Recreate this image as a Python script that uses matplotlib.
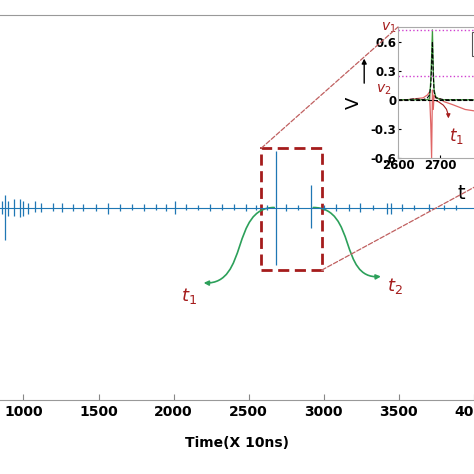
import numpy as np
import matplotlib.pyplot as plt
from matplotlib.patches import Rectangle, FancyArrowPatch, ConnectionPatch
from matplotlib.path import Path

# main trace: noise bursts (time, upper, lower)
burst_t = [860, 880, 900, 940, 980, 1000, 1030, 1080, 1120, 1200, 1260, 1330, 1400, 1480,
           1560, 1640, 1720, 1800, 1880, 1950, 2010, 2080, 2160, 2240, 2320, 2400, 2480,
           2550, 2620, 2682, 2750, 2830, 2916, 3000, 3080, 3170, 3240, 3330, 3420, 3450,
           3520, 3600, 3700, 3800, 3880]
burst_hi = [0.04, 0.08, 0.04, 0.05, 0.05, 0.04, 0.03, 0.04, 0.03, 0.03, 0.03, 0.02, 0.02, 0.02,
            0.03, 0.02, 0.02, 0.02, 0.02, 0.02, 0.04, 0.02, 0.015, 0.02, 0.02, 0.02, 0.02,
            0.015, 0.015, 0.35, 0.02, 0.015, 0.14, 0.015, 0.02, 0.02, 0.03, 0.015, 0.03, 0.03,
            0.02, 0.015, 0.02, 0.015, 0.015]
burst_lo = [-0.04, -0.2, -0.05, -0.05, -0.06, -0.05, -0.04, -0.03, -0.03, -0.02, -0.03, -0.02, -0.02, -0.02,
            -0.04, -0.02, -0.015, -0.02, -0.015, -0.02, -0.04, -0.015, -0.015, -0.02, -0.015, -0.015, -0.02,
            -0.015, -0.015, -0.36, -0.02, -0.015, -0.13, -0.015, -0.02, -0.02, -0.03, -0.015, -0.04, -0.04,
            -0.02, -0.015, -0.02, -0.015, -0.015]

# inset traces (zoom around 2600-2780)
in_t = [2600, 2620, 2640, 2660, 2670, 2675, 2678, 2680, 2682, 2684, 2686, 2690, 2700, 2710, 2730, 2760, 2790]
in_red = [0.0, 0.0, 0.01, 0.02, 0.05, 0.08, -0.25, -0.6, 0.1, -0.1, 0.05, 0.02, 0.01, -0.02, -0.05, -0.1, -0.12]
in_green = [0.0, 0.0, 0.0, 0.0, 0.0, 0.01, 0.2, 0.45, 0.72, 0.3, 0.1, 0.03, 0.0, 0.0, 0.0, 0.0, 0.0]
in_black = [0.0, 0.0, 0.01, 0.0, 0.02, 0.05, 0.15, 0.35, 0.6, 0.25, 0.08, 0.02, 0.01, 0.0, 0.0, 0.0, 0.0]
v1, v2 = 0.72, 0.25

fig = plt.figure(figsize=(4.74, 4.74), dpi=100)
W = H = 474.0
x0 = 1000 - 24 / 0.154
x1 = 1000 + (474 - 24) / 0.154
ax = fig.add_axes([0, (474 - 400) / H, 1.0, (400 - 15) / H])
ax.set_xlim(x0, x1)
ax.set_ylim(-1.2, 1.2)
ax.axhline(0, color='#1f77b4', lw=0.8)
ax.vlines(burst_t, burst_lo, burst_hi, color='#1f77b4', lw=0.9)
ax.set_xticks([1000, 1500, 2000, 2500, 3000, 3500, 4000])
ax.set_yticks([])
ax.tick_params(axis='x', labelsize=10, direction='in', length=4, color='#888888')
for lab in ax.get_xticklabels():
    lab.set_fontweight('bold')
for s in ['left', 'right']:
    ax.spines[s].set_visible(False)
for s in ['top', 'bottom']:
    ax.spines[s].set_color('#999999')
ax.set_xlabel('Time(X 10ns)', fontsize=10, fontweight='bold', labelpad=12)

# dashed box around spikes
bx0, bx1, by0, by1 = 2584, 2987, -0.39, 0.37
ax.add_patch(Rectangle((bx0, by0), bx1 - bx0, by1 - by0, fill=False, ec='#a51c1c',
                       lw=2, ls=(0, (4, 2))))

# green S-shaped arrows to t1, t2
p1 = Path([(2670, 0.0), (2380, 0.0), (2500, -0.48), (2200, -0.47)],
          [Path.MOVETO, Path.CURVE4, Path.CURVE4, Path.CURVE4])
p2 = Path([(2930, 0.0), (3220, 0.0), (3100, -0.45), (3380, -0.43)],
          [Path.MOVETO, Path.CURVE4, Path.CURVE4, Path.CURVE4])
for p in (p1, p2):
    ax.add_patch(FancyArrowPatch(path=p, arrowstyle='-|>', mutation_scale=7,
                                 color='#2ca05a', lw=1.2))
ax.text(2050, -0.58, '$t_1$', color='#a51c1c', fontsize=13)
ax.text(3420, -0.52, '$t_2$', color='#a51c1c', fontsize=13)

# inset
ins = fig.add_axes([398 / W, 1 - 158 / H, 130 / W, 131 / H])
ixmax = 2600 + 100 * 130 / 42
ins.set_xlim(2600, ixmax)
ins.set_ylim(-0.6, 0.75)
ins.plot(in_t, in_red, color='#e06666', lw=0.9)
ins.plot(in_t, in_green, color='#3a9a3a', lw=0.9)
ins.plot(in_t, in_black, color='black', lw=0.8, ls='--')
ins.axhline(0, color='black', lw=0.8, ls='--')
ins.axhline(v1, color='#d040d0', lw=1, ls=':')
ins.axhline(v2, color='#d040d0', lw=1, ls=':')
ins.set_xticks([2600, 2700])
ins.set_yticks([-0.6, -0.3, 0, 0.3, 0.6])
ins.set_yticklabels(['-0.6', '-0.3', '0', '0.3', '0.6'])
ins.tick_params(labelsize=8.5, direction='in', length=2, pad=1)
for lab in ins.get_xticklabels() + ins.get_yticklabels():
    lab.set_fontweight('bold')
for s in ins.spines.values():
    s.set_color('#aaaaaa')
ins.set_xlabel('t', fontsize=14, labelpad=0)
ins.xaxis.set_label_coords(0.49, -0.2)
ins.set_ylabel('V', fontsize=13, labelpad=0)
ins.yaxis.set_label_coords(-0.27, 0.42)
ins.annotate('', xy=(-0.26, 0.78), xytext=(-0.26, 0.55), xycoords='axes fraction',
             arrowprops=dict(arrowstyle='-|>', color='black', lw=1, mutation_scale=7))
ins.text(-0.01, 0.97, '$v_1$', color='#a51c1c', fontsize=10, transform=ins.transAxes, ha='right')
ins.text(-0.05, 0.50, '$v_2$', color='#a51c1c', fontsize=10, transform=ins.transAxes, ha='right')
ins.add_patch(FancyArrowPatch((2684, 0.0), (2720, -0.22), connectionstyle='arc3,rad=-0.4',
                              arrowstyle='-|>', mutation_scale=6, color='#a51c1c', lw=0.8))
ins.text(2722, -0.42, '$t_1$', color='#a51c1c', fontsize=12)
ins.add_patch(Rectangle((2775, 0.45), 60, 0.25, fc='white', ec='#555555', lw=0.8))

# zoom connectors
fig.add_artist(ConnectionPatch((bx0, by1), (2600, 0.75), 'data', 'data', axesA=ax, axesB=ins,
                               color='#c06060', lw=0.9, ls='--'))
fig.add_artist(ConnectionPatch((bx1, by0), (ixmax, -0.6), 'data', 'data',
                               axesA=ax, axesB=ins, color='#c06060', lw=0.9, ls='--'))

fig.savefig('out.png', dpi=100)
